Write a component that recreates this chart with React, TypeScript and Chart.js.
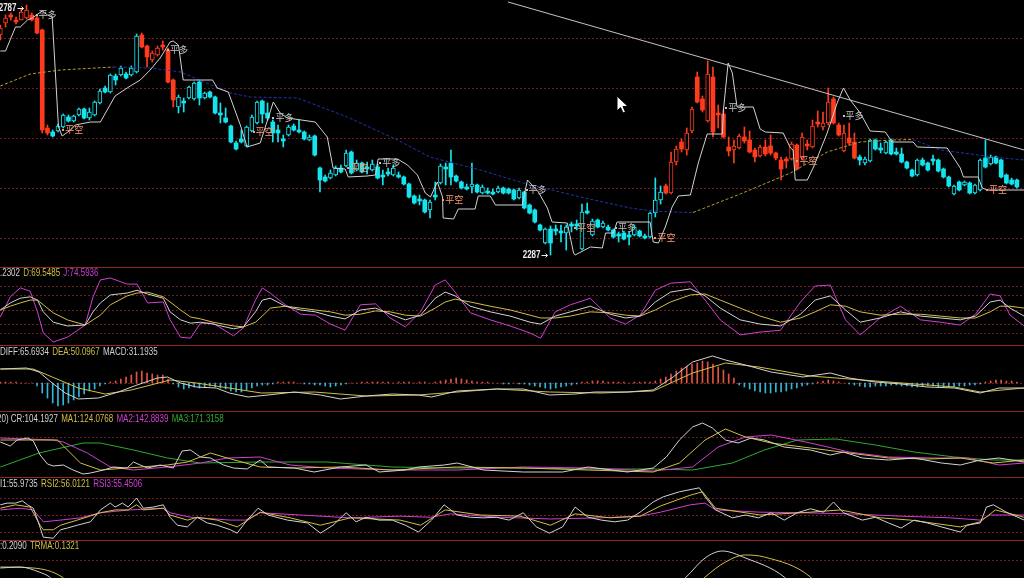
import React, { useEffect, useRef } from "react";
import { Chart, registerables } from "chart.js";

Chart.register(...registerables);

// ---------------- data ----------------
const candleOpen = [
  2727, 2751, 2767, 2757, 2757, 2761, 2767, 2761, 2737, 2541,
  2533, 2535, 2543, 2563, 2555, 2567, 2579, 2561, 2567, 2591,
  2621, 2613, 2645, 2647, 2649, 2647, 2653, 2727, 2705, 2677,
  2687, 2707, 2697, 2637, 2583, 2595, 2601, 2599, 2633, 2601,
  2613, 2603, 2571, 2561, 2545, 2511, 2519, 2505, 2535, 2551,
  2595, 2571, 2553, 2537, 2519, 2527, 2545, 2537, 2533, 2517,
  2525, 2461, 2443, 2441, 2447, 2461, 2465, 2493, 2457, 2471,
  2463, 2457, 2463, 2447, 2453, 2447, 2447, 2443, 2429, 2405,
  2399, 2397, 2377, 2407, 2431, 2463, 2471, 2445, 2433, 2423,
  2423, 2427, 2411, 2415, 2413, 2413, 2421, 2419, 2417, 2401,
  2413, 2387, 2377, 2347, 2311, 2339, 2339, 2335, 2331, 2349,
  2349, 2299, 2375, 2327, 2357, 2343, 2343, 2337, 2329, 2331,
  2327, 2327, 2335, 2325, 2323, 2371, 2397, 2425, 2411, 2473,
  2513, 2497, 2535, 2643, 2599, 2555, 2643, 2571, 2569, 2503,
  2497, 2501, 2523, 2517, 2497, 2485, 2503, 2505, 2491, 2477,
  2479, 2479, 2507, 2481, 2509, 2503, 2553, 2543, 2551, 2599,
  2547, 2495, 2521, 2513, 2483, 2471, 2475, 2517, 2501, 2491,
  2517, 2493, 2489, 2473, 2457, 2447, 2477, 2471, 2479, 2477,
  2459, 2443, 2409, 2433, 2427, 2431, 2411, 2417, 2481, 2469,
  2483, 2477, 2447, 2437, 2437,
];
const candleHigh = [
  2747, 2767, 2771, 2763, 2779, 2787, 2771, 2765, 2739, 2547,
  2537, 2549, 2569, 2567, 2567, 2581, 2581, 2581, 2595, 2619,
  2625, 2649, 2649, 2665, 2653, 2665, 2729, 2731, 2707, 2695,
  2705, 2715, 2701, 2639, 2607, 2601, 2625, 2633, 2635, 2613,
  2615, 2605, 2591, 2581, 2547, 2515, 2537, 2545, 2567, 2595,
  2597, 2591, 2557, 2547, 2527, 2547, 2549, 2557, 2535, 2527,
  2527, 2463, 2447, 2457, 2465, 2467, 2497, 2495, 2477, 2473,
  2473, 2477, 2469, 2457, 2461, 2467, 2453, 2445, 2431, 2407,
  2407, 2399, 2397, 2433, 2469, 2471, 2497, 2447, 2435, 2429,
  2471, 2429, 2427, 2421, 2419, 2425, 2423, 2421, 2419, 2421,
  2415, 2389, 2379, 2349, 2341, 2345, 2347, 2347, 2347, 2353,
  2357, 2389, 2391, 2359, 2359, 2355, 2347, 2339, 2333, 2335,
  2333, 2347, 2337, 2329, 2373, 2441, 2425, 2429, 2493, 2505,
  2519, 2541, 2583, 2653, 2605, 2675, 2663, 2587, 2577, 2523,
  2517, 2529, 2543, 2535, 2501, 2507, 2517, 2527, 2493, 2483,
  2483, 2513, 2509, 2531, 2517, 2557, 2575, 2573, 2621, 2603,
  2551, 2547, 2551, 2531, 2487, 2483, 2519, 2519, 2511, 2515,
  2519, 2501, 2501, 2475, 2459, 2479, 2481, 2473, 2487, 2479,
  2461, 2445, 2427, 2435, 2435, 2433, 2429, 2479, 2517, 2487,
  2485, 2479, 2449, 2441, 2439,
];
const candleLow = [
  2717, 2743, 2757, 2749, 2757, 2759, 2755, 2729, 2531, 2527,
  2523, 2533, 2541, 2553, 2553, 2565, 2559, 2557, 2565, 2589,
  2611, 2611, 2627, 2645, 2639, 2645, 2651, 2701, 2663, 2673,
  2685, 2697, 2631, 2583, 2571, 2573, 2599, 2597, 2587, 2599,
  2601, 2569, 2551, 2551, 2511, 2497, 2511, 2503, 2533, 2549,
  2551, 2557, 2513, 2513, 2503, 2525, 2535, 2531, 2517, 2515,
  2485, 2413, 2433, 2439, 2445, 2451, 2463, 2449, 2455, 2451,
  2449, 2455, 2439, 2427, 2445, 2445, 2441, 2427, 2401, 2389,
  2387, 2371, 2361, 2397, 2429, 2427, 2427, 2433, 2419, 2417,
  2411, 2411, 2409, 2409, 2407, 2411, 2409, 2409, 2397, 2399,
  2379, 2369, 2351, 2335, 2309, 2287, 2327, 2313, 2297, 2333,
  2337, 2297, 2369, 2325, 2341, 2341, 2335, 2321, 2313, 2317,
  2307, 2325, 2323, 2319, 2321, 2363, 2389, 2409, 2409, 2467,
  2493, 2487, 2531, 2591, 2573, 2553, 2523, 2541, 2521, 2485,
  2471, 2499, 2511, 2491, 2473, 2483, 2485, 2487, 2477, 2437,
  2461, 2477, 2457, 2477, 2497, 2501, 2543, 2537, 2547, 2549,
  2525, 2493, 2507, 2479, 2467, 2467, 2473, 2497, 2491, 2489,
  2487, 2487, 2471, 2459, 2443, 2445, 2465, 2455, 2467, 2453,
  2441, 2423, 2407, 2415, 2425, 2409, 2409, 2415, 2461, 2467,
  2469, 2441, 2429, 2427, 2421,
];
const candleClose = [
  2741, 2761, 2763, 2753, 2773, 2777, 2757, 2731, 2537, 2531,
  2525, 2545, 2567, 2555, 2565, 2579, 2561, 2573, 2593, 2615,
  2613, 2647, 2637, 2661, 2641, 2661, 2725, 2703, 2683, 2691,
  2701, 2703, 2633, 2597, 2603, 2591, 2623, 2631, 2601, 2611,
  2603, 2571, 2567, 2553, 2513, 2499, 2513, 2543, 2563, 2593,
  2569, 2561, 2531, 2531, 2515, 2543, 2537, 2533, 2519, 2523,
  2487, 2437, 2435, 2451, 2461, 2453, 2491, 2451, 2471, 2453,
  2459, 2469, 2441, 2443, 2449, 2461, 2443, 2429, 2403, 2391,
  2395, 2373, 2393, 2403, 2465, 2459, 2443, 2435, 2421, 2419,
  2429, 2413, 2423, 2411, 2409, 2421, 2411, 2411, 2399, 2417,
  2381, 2371, 2353, 2337, 2339, 2311, 2335, 2331, 2343, 2345,
  2345, 2373, 2371, 2355, 2343, 2351, 2337, 2323, 2325, 2319,
  2323, 2343, 2325, 2321, 2371, 2397, 2413, 2411, 2473, 2499,
  2499, 2531, 2579, 2593, 2577, 2649, 2533, 2567, 2523, 2495,
  2505, 2525, 2515, 2493, 2483, 2503, 2489, 2491, 2481, 2459,
  2475, 2509, 2459, 2523, 2505, 2545, 2549, 2551, 2593, 2551,
  2527, 2531, 2511, 2481, 2477, 2479, 2517, 2499, 2497, 2513,
  2489, 2489, 2473, 2461, 2445, 2477, 2467, 2457, 2475, 2455,
  2443, 2425, 2425, 2417, 2433, 2411, 2427, 2477, 2463, 2483,
  2471, 2443, 2431, 2429, 2423,
];
// bars drawn in the "long" colour
const redSpans = [[0, 9], [27, 33], [127, 163]];

const maLine = [
  [0, 2625], [5.7, 2649], [11.5, 2657], [21.6, 2663], [28.6, 2661], [34.4, 2653],
  [43.9, 2611], [47.7, 2603], [56.7, 2601], [66.2, 2563], [75.8, 2517], [82, 2483],
  [91.6, 2457], [99.8, 2431], [110.7, 2403], [120.2, 2381], [124.6, 2375], [128.4, 2373],
  [132.2, 2372], [141.2, 2409], [150.8, 2451], [157.8, 2493], [164.1, 2513], [170.4, 2517],
  [174.2, 2518], [179.4, 2497], [189.5, 2483], [195.4, 2477],
];
const stopLine = [
  [0, 2695], [1, 2695], [2.9, 2743], [3.8, 2743], [5.2, 2757], [6.1, 2761], [8, 2775], [9, 2767],
  [9.9, 2763], [11.1, 2543], [11.8, 2525], [13.4, 2537], [14.3, 2547], [17.2, 2553], [19.1, 2553],
  [21.9, 2605], [24.8, 2625], [26.7, 2637], [28.6, 2657], [30.5, 2681], [32.4, 2713], [33, 2715],
  [34, 2707], [34.9, 2637], [40.5, 2637], [41.4, 2621], [43.5, 2613], [45.8, 2547], [47.1, 2503],
  [49.6, 2511], [52.1, 2593], [53.4, 2571], [54.8, 2561], [60.1, 2553], [62.4, 2523], [63.5, 2461],
  [65.8, 2459], [66.4, 2443], [70, 2445], [71.6, 2447], [72.1, 2479], [75.8, 2479], [77.7, 2467],
  [79.6, 2447], [81.1, 2411], [82.1, 2403], [83.4, 2433], [84.4, 2403], [84.5, 2361], [86.5, 2359],
  [87.4, 2379], [90.6, 2379], [91.2, 2405], [93.5, 2405], [94.5, 2387], [99.6, 2387], [100.6, 2437],
  [102.7, 2413], [104.4, 2381], [105.3, 2353], [108.2, 2351], [109.4, 2291], [109.7, 2287],
  [112.6, 2303], [114.9, 2301], [115.5, 2331], [117, 2331], [117.7, 2353], [124, 2353], [124.6, 2313],
  [125.6, 2311], [126.9, 2343], [128.2, 2383], [129.4, 2405], [131.7, 2407], [133.2, 2471],
  [134.9, 2529], [137.8, 2529], [138, 2577], [138.9, 2671], [139.7, 2651], [140.6, 2583],
  [143.7, 2583], [145, 2539], [146, 2533], [149.4, 2531], [150.8, 2501], [151.3, 2497], [151.7, 2437],
  [154, 2437], [155.2, 2463], [157.8, 2531], [159.7, 2591], [160.9, 2621], [162.2, 2597],
  [164.1, 2571], [166, 2535], [168.9, 2533], [170.2, 2513], [174.2, 2513], [175, 2503], [180.7, 2501],
  [183.2, 2461], [183.8, 2443], [186.6, 2443], [187.4, 2421], [188.4, 2417], [195.4, 2417],
];
const trendLine = [[96.9, 2793], [195.4, 2497]];
const closeLongIdx = [7.3, 32.4, 52.5, 72.9, 100.8, 117.9, 138.9, 161.3];
const closeLongPrice = [2767, 2697, 2561, 2471, 2417, 2341, 2581, 2565];
const closeShortIdx = [12.4, 48.7, 66.8, 84.9, 110.1, 125.4, 152.5, 188.7];
const closeShortPrice = [2537, 2533, 2461, 2397, 2341, 2321, 2475, 2417];
const priceGrid = [2722, 2622, 2522, 2422, 2322];

const kdjX = [
  0, 1.9, 3.8, 5.7, 7.1, 8.2, 10.1, 12.8, 16.2, 17.7,
  19.1, 21, 24.2, 26.1, 28.1, 31.1, 32.4, 34.4, 36.3, 38.2,
  40.6, 44.5, 46.4, 48.7, 50, 51.5, 54.4, 57.3, 60.1, 63,
  65.8, 68.7, 71.6, 74.4, 77.3, 80.2, 83, 84.9, 86.8, 89.7,
  93.5, 97.3, 101.1, 103.1, 105.9, 108.8, 112.6, 116.4, 119.3, 122.1,
  125, 127.9, 131.7, 134.5, 137.4, 141.2, 145, 148.9, 152.7, 155.5,
  158.4, 161.3, 164.1, 167.9, 171.8, 175.6, 179.4, 183.2, 186.1, 188.9,
  190.8, 192.7, 195.4,
];
const kdjK = [
  49, 64, 74, 77, 70, 45, 23, 15, 17, 45,
  64, 81, 85, 91, 83, 74, 45, 28, 21, 23,
  19, 9, 13, 45, 70, 74, 57, 49, 45, 36,
  30, 49, 53, 40, 28, 38, 74, 87, 79, 57,
  45, 36, 23, 19, 36, 45, 57, 40, 32, 36,
  66, 87, 94, 79, 53, 28, 19, 15, 40, 70,
  79, 49, 23, 32, 45, 36, 32, 28, 36, 66,
  70, 53, 36,
];
const kdjD = [
  49, 57, 64, 70, 70, 60, 43, 28, 17, 28,
  38, 60, 79, 85, 87, 77, 66, 49, 34, 30,
  23, 15, 13, 23, 36, 53, 57, 53, 49, 45,
  38, 40, 47, 45, 38, 36, 53, 66, 72, 66,
  57, 49, 38, 32, 32, 36, 45, 43, 38, 36,
  49, 66, 81, 83, 70, 53, 36, 23, 32, 45,
  60, 57, 45, 38, 40, 40, 36, 32, 32, 45,
  57, 57, 53,
];
const kdjJ = [
  34, 77, 96, 89, 45, 0, -19, -9, 17, 77,
  113, 117, 104, 104, 64, 66, 28, -9, -11, 21,
  21, -6, 11, 70, 96, 85, 60, 40, 38, 19,
  6, 60, 62, 32, 13, 45, 102, 113, 87, 43,
  28, 15, 0, -11, 45, 60, 74, 32, 19, 38,
  91, 106, 109, 70, 28, -4, 2, 6, 66, 100,
  102, 28, -4, 32, 57, 28, 23, 17, 40, 83,
  79, 38, 15,
];
const kdjGrid = [100, 80, 50, 20, 0];

const macdDiff = [
  [0, 56], [5, 60], [7.4, 44], [9.9, 0], [12.4, -40], [14.9, -64], [18.7, -60], [22.5, -36],
  [26.1, -8], [30, 20], [31.9, 24], [34.4, 0], [37.4, -16], [41.2, -20], [43.7, -40], [47.3, -56],
  [51.1, -48], [56.1, -36], [61.1, -48], [64.9, -64], [69.8, -52], [74.8, -44], [79.8, -48],
  [82.3, -56], [87.2, -32], [94.7, -24], [99.8, -24], [104.8, -48], [109.7, -44], [113.4, -36],
  [119.7, -36], [124.6, -28], [128.4, 24], [132.1, 84], [135.9, 108], [138.4, 92], [142.2, 72],
  [147.1, 44], [153.2, 24], [158.4, 40], [162, 20], [167, 4], [172, -4], [176.9, -16], [182.1, -20],
  [187, -40], [190.6, -20], [195.4, -20],
];
const macdDea = [
  [0, 56], [6.3, 56], [9.9, 24], [14.9, -20], [20, -44], [25, -28], [32.4, 12], [37.4, 0],
  [42.4, -16], [49.8, -40], [59.9, -36], [69.8, -52], [79.8, -48], [94.7, -24], [104.8, -36],
  [114.7, -40], [124.6, -32], [132.1, 40], [138.4, 80], [144.7, 64], [154.6, 28], [162, 16],
  [172, 0], [182.1, -16], [187, -36], [195.4, -20],
];
const macdHist = [
  4, 4, 4, 4, 0, 0, 0, -12, -40, -60,
  -80, -92, -88, -80, -68, -56, -44, -32, -24, -12,
  -4, 4, 8, 16, 24, 32, 44, 48, 40, 36,
  32, 32, 16, -4, -16, -24, -20, -16, -20, -16,
  -12, -16, -20, -24, -32, -36, -36, -28, -20, -12,
  -8, -8, -4, 4, 4, 4, 4, 0, -4, -4,
  -8, -8, -12, -16, -12, -8, -4, 0, 0, 4,
  4, 4, 4, 4, 4, 0, 4, 4, 4, 0,
  4, 4, 0, 4, 8, 12, 16, 20, 16, 12,
  8, 4, 4, 4, 0, 0, -4, -4, 0, -4,
  -4, -8, -12, -16, -20, -24, -20, -16, -12, -8,
  -4, 4, 4, 8, 8, 8, 4, 4, 4, 4,
  0, 4, 4, 4, 4, 8, 16, 24, 36, 48,
  60, 68, 76, 80, 88, 84, 76, 64, 52, 36,
  20, -8, -16, -24, -32, -36, -40, -40, -36, -36,
  -32, -24, -20, -12, -8, -4, 4, 8, 12, 8,
  4, 0, -4, -8, -12, -16, -16, -12, -12, -12,
  -8, -8, -12, -12, -16, -16, -12, -12, -12, -16,
  -16, -16, -16, -12, -12, -8, -8, -4, 4, 8,
  12, 12, 8, 8, 4,
];

const crLine = [
  [0, 175], [1.9, 155], [3.2, 185], [5.2, 195], [6.3, 180], [7.6, 110], [9, 65], [10.1, 55],
  [12, 60], [13.9, 35], [15.8, 15], [17.2, 20], [19.7, 35], [21.6, 50], [24.2, 45], [25.4, 75],
  [26.7, 60], [28.1, 45], [30.5, 60], [33, 45], [34.7, 130], [36.3, 135], [38.2, 100], [40.1, 95],
  [42.6, 60], [44.5, 45], [47.1, 40], [49.6, 85], [51.1, 50], [56.1, 45], [59.9, 25], [64.9, 50],
  [69.8, 60], [72.3, 25], [77.3, 35], [79.8, 50], [84.7, 60], [87.2, 70], [92.2, 35], [99.8, 25],
  [107.3, 25], [112.2, 50], [119.7, 25], [124.6, 45], [127.1, 100], [129.6, 185], [132.1, 250],
  [134, 270], [135.9, 245], [138.4, 185], [140.8, 170], [143.3, 195], [145.8, 185], [149.6, 150],
  [154.6, 135], [158.4, 110], [160.9, 125], [164.5, 95], [169.5, 85], [174.4, 95], [179.6, 70],
  [183.2, 60], [187, 85], [190.6, 95], [195.4, 75],
];
const crMa1 = [
  [0, 185], [10.9, 185], [15.3, 70], [19.1, 35], [24.2, 45], [31.9, 60], [35.7, 75], [40.1, 120],
  [43.3, 95], [49.6, 50], [56.1, 45], [64.9, 50], [74.8, 35], [87.2, 50], [99.8, 45], [112.2, 35],
  [124.6, 25], [129.6, 70], [134.5, 185], [138.4, 240], [142.2, 200], [147.1, 170], [154.6, 145],
  [162, 120], [169.5, 95], [176.9, 90], [183.2, 95], [189.5, 70], [195.4, 85],
];
const crMa2 = [
  [0, 195], [10.1, 185], [12, 175], [16.6, 120], [21, 50], [25.4, 35], [31.9, 50], [38.2, 70],
  [43.3, 95], [49.6, 100], [55.3, 60], [62.4, 45], [74.8, 35], [87.2, 35], [99.8, 50], [112.2, 45],
  [124.6, 30], [132.1, 50], [137, 150], [142.2, 200], [147.1, 210], [154.6, 170], [162, 125],
  [169.5, 100], [178.2, 95], [184.5, 95], [190.6, 60], [195.4, 70],
];
const crMa3 = [
  [0, 50], [7.4, 120], [15.8, 170], [19.1, 170], [25.4, 135], [31.9, 95], [38.2, 70], [49.6, 75],
  [62.4, 75], [74.8, 50], [87.2, 45], [99.8, 45], [112.2, 40], [124.6, 40], [132.1, 35],
  [139.7, 70], [145.8, 135], [152.1, 185], [159.5, 190], [167, 160], [174.4, 125], [182.1, 100],
  [189.5, 85], [195.4, 85],
];

const rsi1 = [
  [0, 68], [1.3, 71], [2.9, 71], [4.2, 75], [5.2, 68], [6.3, 62], [7.3, 36], [8.2, 11], [10.1, 9],
  [11.5, 24], [12.8, 27], [14.7, 32], [17.2, 38], [19.1, 59], [21, 71], [21.9, 64], [23.3, 71],
  [24.4, 64], [26, 80], [27.3, 62], [29.2, 64], [31.1, 68], [32.4, 46], [33.8, 32], [35.7, 29],
  [37.6, 46], [39.5, 36], [41.4, 32], [43.9, 24], [45.2, 18], [47.1, 41], [49.2, 62], [51.1, 50],
  [54.8, 41], [58.6, 36], [61.1, 18], [63.5, 32], [66, 54], [67.9, 38], [69.8, 46], [72.3, 41],
  [74.8, 41], [77.3, 32], [79.8, 20], [82.3, 41], [84.7, 68], [87.2, 50], [89.7, 46], [92.2, 45],
  [94.7, 46], [97.1, 41], [99.8, 54], [102.3, 29], [104.8, 18], [107.3, 29], [109.7, 64],
  [112.2, 46], [114.7, 41], [117.2, 38], [119.7, 41], [122.1, 55], [124.6, 73], [126.5, 82],
  [129.6, 91], [133.4, 98], [134.5, 82], [136.5, 59], [139.7, 45], [142.2, 50], [144.7, 45],
  [147.1, 54], [149.6, 41], [152.1, 54], [154.6, 61], [157.1, 55], [159, 73], [160.9, 54],
  [164.5, 41], [167, 46], [169.5, 36], [171.9, 27], [174.4, 41], [176.9, 36], [179.6, 29],
  [183.2, 20], [184.5, 32], [187, 36], [188.2, 64], [189.5, 68], [192, 55], [195.4, 41],
];
const rsi2 = [
  [0, 62], [2.9, 68], [5.7, 64], [7.6, 32], [8.2, 24], [10.1, 24], [11.5, 32], [14.7, 41],
  [19.1, 54], [21.9, 59], [24.4, 59], [26, 68], [27.3, 59], [31.1, 62], [32.4, 50], [35.7, 41],
  [37.6, 46], [41.4, 41], [45.2, 29], [49.6, 55], [55.3, 45], [61.1, 32], [66.8, 45], [76.3, 41],
  [80.2, 32], [84.9, 59], [91.6, 50], [99.2, 48], [105, 32], [109.7, 52], [116.4, 45], [122.1, 48],
  [126, 66], [131.7, 85], [134, 91], [136.5, 62], [145, 50], [154.6, 55], [160.3, 59], [167.9, 45],
  [173.7, 41], [183.2, 29], [187, 38], [189.9, 59], [195.4, 46],
];
const rsi3 = [
  [0, 59], [3.8, 62], [6.3, 59], [8.2, 38], [11.5, 41], [15.3, 45], [19.1, 54], [24.8, 59],
  [31.1, 62], [32.4, 54], [36.3, 46], [43.9, 41], [46.8, 41], [49.6, 54], [57.3, 50], [66.8, 45],
  [76.3, 48], [82.1, 46], [85.9, 52], [95.4, 46], [105, 43], [114.5, 45], [122.1, 48], [126, 55],
  [131.7, 68], [134.5, 71], [136.5, 59], [145, 55], [152.7, 54], [162.2, 52], [171.8, 48],
  [181.3, 45], [187, 41], [188.9, 50], [195.4, 50],
];
const rsiGrid = [80, 50, 20];

const trixLine = [
  [0, 0.1], [3.8, 0.11], [7.4, 0.06], [9.4, 0.01], [11.8, -0.12], [126, -0.22], [130.9, 0.01],
  [134.5, 0.2], [137.8, 0.27], [142.2, 0.2], [149.6, 0.01], [152.7, -0.17], [195.4, -0.22],
];
const trmaLine = [
  [0, 0.11], [6.3, 0.1], [11.8, 0.01], [14.3, -0.12], [129.8, -0.22], [134.5, 0.01], [138.4, 0.16],
  [142.2, 0.23], [145.8, 0.21], [154.6, 0.01], [157.4, -0.17], [195.4, -0.22],
];

// ---------------- style ----------------
const X_MIN = -0.06;
const X_MAX = 195.36;
const RED = "#ff3b1e";
const CYAN = "#14e4ee";
const WHITE = "#d2d2d2";
const YELLOW = "#d2bf45";
const MAGENTA = "#d23ed2";
const GREEN = "#2faa2f";
const MA_UP = "#b39d32";
const MA_DOWN = "#2233b0";
const GRID = "#6e1e1e";
const SEP = "#912828";
const HIST_UP = "#e0553f";
const HIST_DN = "#33b5d6";
const FONT = "'Liberation Sans', Arial, sans-serif";

const toPts = (arr: number[][]) => arr.map(([x, y]) => ({ x, y }));
const lineDs = (arr: number[][], color: string, extra: any = {}) => ({
  type: "line",
  data: toPts(arr),
  borderColor: color,
  borderWidth: 1,
  pointRadius: 0,
  tension: 0,
  fill: false,
  ...extra,
});

const baseOptions = (min: number, max: number): any => ({
  responsive: false,
  maintainAspectRatio: false,
  animation: false,
  events: [],
  layout: { padding: 0 },
  plugins: { legend: { display: false }, tooltip: { enabled: false } },
  scales: {
    x: { type: "linear", min: X_MIN, max: X_MAX, display: false, offset: false },
    y: { type: "linear", min, max, display: false },
  },
});

const dottedGrid = (values: number[]) => ({
  id: "dottedGrid",
  beforeDatasetsDraw(chart: any) {
    const { ctx, chartArea, scales } = chart;
    ctx.save();
    ctx.strokeStyle = GRID;
    ctx.lineWidth = 1;
    ctx.setLineDash([2, 2]);
    values.forEach((v) => {
      const py = Math.round(scales.y.getPixelForValue(v)) + 0.5;
      ctx.beginPath();
      ctx.moveTo(chartArea.left, py);
      ctx.lineTo(chartArea.right, py);
      ctx.stroke();
    });
    ctx.restore();
  },
});

const markerPlugin = {
  id: "markers",
  afterDatasetsDraw(chart: any) {
    const { ctx, scales } = chart;
    const x = scales.x;
    const y = scales.y;
    ctx.save();
    ctx.font = "9px 'Noto Sans CJK SC', sans-serif";
    ctx.textBaseline = "middle";
    ctx.textAlign = "left";
    const draw = (idx: number[], price: number[], label: string, color: string) => {
      idx.forEach((ix, k) => {
        const px = x.getPixelForValue(ix);
        const py = y.getPixelForValue(price[k]);
        ctx.fillStyle = color;
        ctx.fillRect(Math.round(px) - 3, Math.round(py) - 1, 2, 2);
        ctx.fillText(label, px, py);
      });
    };
    draw(closeLongIdx, closeLongPrice, "平多", "#c4c4c4");
    draw(closeShortIdx, closeShortPrice, "平空", "#ff9a78");

    // extreme labels
    let hi = 0;
    let lo = 0;
    candleHigh.forEach((h, i) => { if (h > candleHigh[hi]) hi = i; });
    candleLow.forEach((l, i) => { if (l < candleLow[lo]) lo = i; });
    ctx.fillStyle = "#ececec";
    ctx.strokeStyle = "#ececec";
    ctx.lineWidth = 1;
    const mark = (i: number, v: number, dy: number) => {
      const px = x.getPixelForValue(i);
      const py = Math.round(y.getPixelForValue(v) + dy) + 0.5;
      ctx.save();
      ctx.translate(px - 10, py);
      ctx.scale(0.8, 1);
      ctx.font = `bold 10px ${FONT}`;
      ctx.textAlign = "right";
      ctx.textBaseline = "middle";
      ctx.fillText(String(v), 0, 0);
      ctx.restore();
      ctx.beginPath();
      ctx.moveTo(px - 9, py);
      ctx.lineTo(px - 3, py);
      ctx.moveTo(px - 5, py - 2);
      ctx.lineTo(px - 3, py);
      ctx.lineTo(px - 5, py + 2);
      ctx.stroke();
    };
    mark(hi, candleHigh[hi], 3);
    mark(lo, candleLow[lo], 0);
    ctx.restore();
  },
};

const isRed = (i: number) => redSpans.some(([a, b]) => i >= a && i <= b);

function makeMain(): any {
  const colors = candleOpen.map((_, i) => (isRed(i) ? RED : CYAN));
  const hollow = candleOpen.map((o, i) => candleClose[i] > o);
  return {
    type: "bar",
    data: {
      datasets: [
        {
          type: "bar",
          data: candleLow.map((l, i) => ({ x: i, y: [l, candleHigh[i]] })),
          backgroundColor: colors,
          barThickness: 1,
          grouped: false,
          order: 5,
        },
        {
          type: "bar",
          data: candleOpen.map((o, i) => ({ x: i, y: [o, candleClose[i]] })),
          backgroundColor: hollow.map((h, i) => (h ? "#000000" : colors[i])),
          borderColor: colors,
          borderWidth: hollow.map((h) => (h ? 1 : 0)),
          borderSkipped: false,
          barThickness: 4,
          grouped: false,
          order: 4,
        },
        lineDs(maLine, MA_UP, {
          borderDash: [3, 2],
          segment: {
            borderColor: (c: any) => (c.p1.parsed.y >= c.p0.parsed.y ? MA_UP : MA_DOWN),
          },
          order: 3,
        }),
        lineDs(stopLine, WHITE, { order: 2 }),
        lineDs(trendLine, "#c4c4c4", { order: 1 }),
      ],
    },
    options: baseOptions(2263, 2797),
    plugins: [dottedGrid(priceGrid), markerPlugin],
  };
}

function makeKdj(): any {
  const pts = (vals: number[]) => kdjX.map((x, i) => [x, vals[i]]);
  return {
    type: "line",
    data: {
      datasets: [
        lineDs(pts(kdjJ), MAGENTA, { order: 3 }),
        lineDs(pts(kdjD), YELLOW, { order: 2 }),
        lineDs(pts(kdjK), WHITE, { order: 1 }),
      ],
    },
    options: baseOptions(-25.5, 138.3),
    plugins: [dottedGrid(kdjGrid)],
  };
}

function makeMacd(): any {
  return {
    type: "bar",
    data: {
      datasets: [
        {
          type: "bar",
          data: macdHist.map((v, i) => ({ x: i, y: v })),
          backgroundColor: macdHist.map((v) => (v >= 0 ? HIST_UP : HIST_DN)),
          barThickness: 1,
          grouped: false,
          order: 3,
        },
        lineDs(macdDea, YELLOW, { order: 2 }),
        lineDs(macdDiff, WHITE, { order: 1 }),
      ],
    },
    options: baseOptions(-112, 148),
    plugins: [dottedGrid([0])],
  };
}

function makeCr(): any {
  return {
    type: "line",
    data: {
      datasets: [
        lineDs(crMa3, GREEN, { order: 4 }),
        lineDs(crMa2, MAGENTA, { order: 3 }),
        lineDs(crMa1, YELLOW, { order: 2 }),
        lineDs(crLine, WHITE, { order: 1 }),
      ],
    },
    options: baseOptions(0, 325),
    plugins: [dottedGrid([200])],
  };
}

function makeRsi(): any {
  return {
    type: "line",
    data: {
      datasets: [
        lineDs(rsi3, MAGENTA, { order: 3 }),
        lineDs(rsi2, YELLOW, { order: 2 }),
        lineDs(rsi1, WHITE, { order: 1 }),
      ],
    },
    options: baseOptions(5.9, 115.3),
    plugins: [dottedGrid(rsiGrid)],
  };
}

function makeTrix(): any {
  return {
    type: "line",
    data: {
      datasets: [
        lineDs(trmaLine, YELLOW, { cubicInterpolationMode: "monotone", order: 2 }),
        lineDs(trixLine, WHITE, { cubicInterpolationMode: "monotone", order: 1 }),
      ],
    },
    options: baseOptions(0, 0.37),
    plugins: [dottedGrid([0.18])],
  };
}

function ChartCanvas({ top, height, make }: { top: number; height: number; make: () => any }) {
  const ref = useRef<HTMLCanvasElement | null>(null);
  useEffect(() => {
    if (!ref.current) return;
    const chart = new Chart(ref.current, make());
    return () => chart.destroy();
  }, []);
  return (
    <canvas
      ref={ref}
      width={1024}
      height={height}
      style={{ position: "absolute", left: 0, top, width: 1024, height, display: "block" }}
    />
  );
}

function TitleRow({ left = 0, top, items }: { left?: number; top: number; items: [string, string][] }) {
  return (
    <div
      style={{
        position: "absolute",
        left,
        top,
        font: `10px ${FONT}`,
        lineHeight: "12px",
        whiteSpace: "nowrap",
        transform: "scaleX(0.8)",
        transformOrigin: "0 0",
      }}
    >
      {items.map(([text, color], i) => (
        <span key={i} style={{ color, marginRight: 4 }}>
          {text}
        </span>
      ))}
    </div>
  );
}

export default function App() {
  const seps = [267, 345, 411, 477, 540];
  return (
    <div
      style={{
        position: "fixed",
        left: 0,
        top: 0,
        width: 1024,
        height: 578,
        background: "#000",
        overflow: "hidden",
      }}
    >
      <ChartCanvas top={0} height={267} make={makeMain} />
      <ChartCanvas top={268} height={77} make={makeKdj} />
      <ChartCanvas top={346} height={65} make={makeMacd} />
      <ChartCanvas top={412} height={65} make={makeCr} />
      <ChartCanvas top={478} height={62} make={makeRsi} />
      <ChartCanvas top={541} height={37} make={makeTrix} />
      {seps.map((y) => (
        <div key={y} style={{ position: "absolute", left: 0, top: y, width: 1024, height: 1, background: SEP }} />
      ))}

      <TitleRow top={267} items={[[".2302", WHITE], ["D:69.5485", YELLOW], ["J:74.5936", MAGENTA]]} />
      <TitleRow top={346} items={[["DIFF:65.6934", WHITE], ["DEA:50.0967", YELLOW], ["MACD:31.1935", WHITE]]} />
      <TitleRow
        left={-3}
        top={413}
        items={[["20) CR:104.1927", WHITE], ["MA1:124.0768", YELLOW], ["MA2:142.8839", MAGENTA], ["MA3:171.3158", GREEN]]}
      />
      <TitleRow top={478} items={[["I1:55.9735", WHITE], ["RSI2:56.0121", YELLOW], ["RSI3:55.4506", MAGENTA]]} />
      <TitleRow top={540} items={[[":0.2090", WHITE], ["TRMA:0.1321", YELLOW]]} />

      <svg width={14} height={20} style={{ position: "absolute", left: 616, top: 95 }} viewBox="0 0 14 20">
        <path d="M1 1 L1 16 L4.5 12.5 L7 18 L9.5 17 L7 11.5 L12 11.5 Z" fill="#ffffff" stroke="#000" strokeWidth="1" />
      </svg>
    </div>
  );
}
